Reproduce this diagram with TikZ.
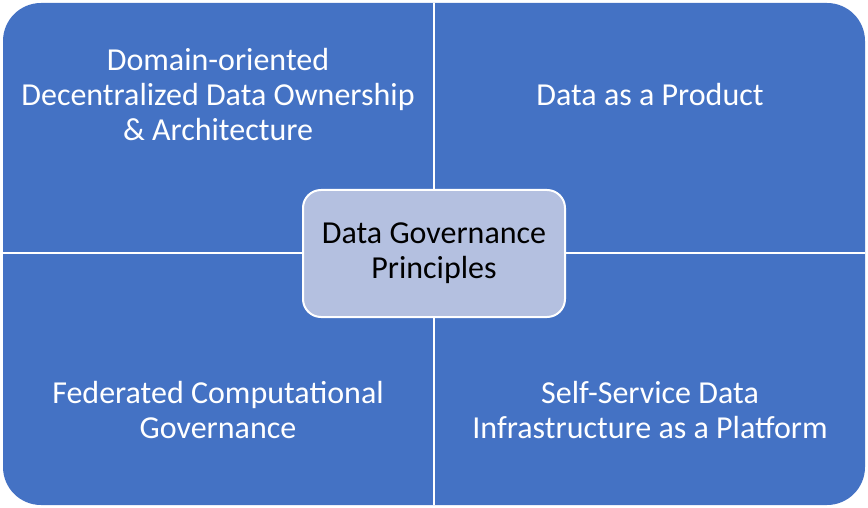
\documentclass[tikz,border=0pt]{standalone}
\usepackage{fontspec}
\setmainfont{Carlito}
\definecolor{qblue}{HTML}{4472C4}
\definecolor{cblue}{HTML}{B4C0E0}
\tikzset{qtext/.style={text=white,align=center,font=\fontsize{32}{35}\selectfont},
 ctext/.style={draw=white,line width=2pt,fill=cblue,rounded corners=18pt,align=center,font=\fontsize{32}{35}\selectfont,minimum width=262pt,minimum height=127pt,inner sep=0pt}}
\begin{document}
\begin{tikzpicture}[x=1pt,y=-1pt]
\useasboundingbox (0,0) rectangle (868,508);
\fill[qblue,rounded corners=38pt] (3,3) rectangle (865,505);
\coordinate (t) at (434,3); \coordinate (b) at (434,505);
\coordinate (l) at (3,253); \coordinate (r) at (865,253);
\draw[white,line width=2pt] (t) -- (b) (l) -- (r);
\node[qtext] (q1) at (218,95) {Domain-oriented\\Decentralized Data Ownership\\\& Architecture};
\node[qtext] (q2) at (650,95) {Data as a Product};
\node[qtext] (q3) at (218,410) {Federated Computational\\Governance};
\node[qtext] (q4) at (650,410) {Self-Service Data\\Infrastructure as a Platform};
\node[ctext] (c) at (434,253.5) {Data Governance\\Principles};
\end{tikzpicture}
\end{document}
